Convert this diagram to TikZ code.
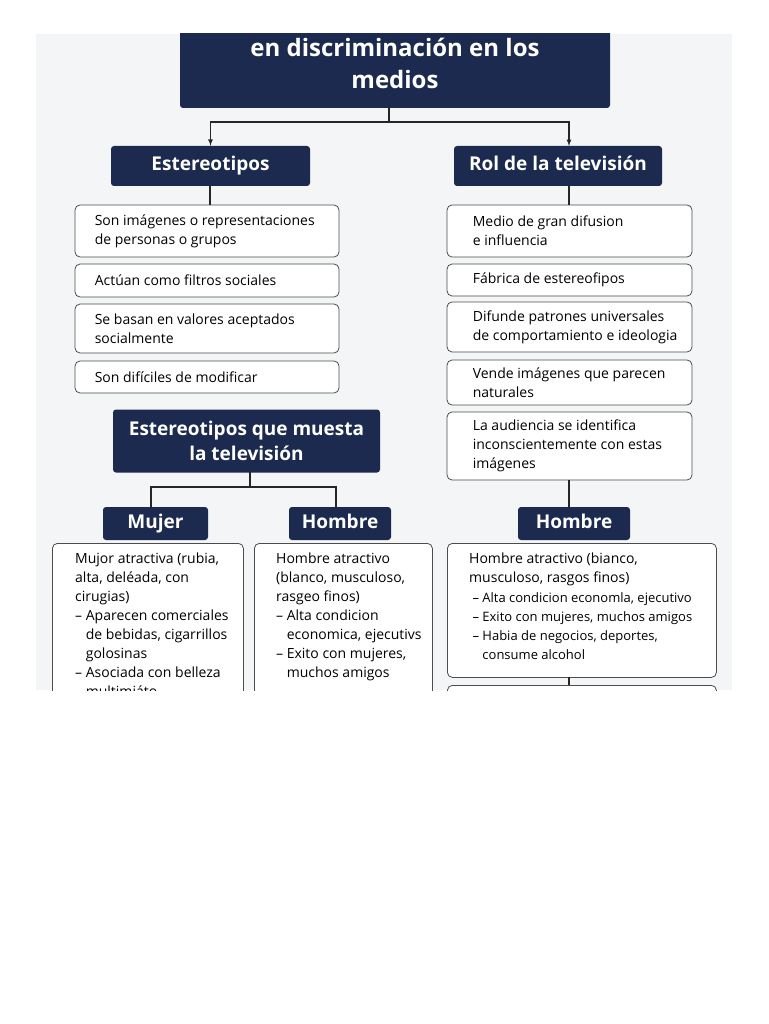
\documentclass[tikz,border=0pt]{standalone}
\usepackage{fontspec}
\setmainfont{Open Sans}
\definecolor{navy}{HTML}{1B2A4E}
\definecolor{bgc}{HTML}{F4F5F6}
\begin{document}
\begin{tikzpicture}[x=1pt,y=-1pt,
 hbox/.style={fill=navy,rounded corners=3pt,text=white,font=\fontsize{19}{23}\selectfont\bfseries,align=center,inner sep=0pt},
 one/.style={text height=14pt,text depth=5pt},
 wbox/.style={draw=black!70,line width=0.8pt,fill=white,rounded corners=5pt,inner sep=0pt},
 txt/.style={align=left,inner sep=0pt,anchor=west,font=\fontsize{14}{19}\selectfont},
 ttxt/.style={align=left,inner sep=0pt,anchor=north west,font=\fontsize{14}{19}\selectfont},
 ln/.style={line width=1.2pt,black!85},
 arr/.style={ln,-latex}]
\useasboundingbox (0,0) rectangle (768,1024);
\fill[white] (0,0) rectangle (768,1024);
\begin{scope}
\clip (36,34) rectangle (732,690);
\fill[bgc] (36,34) rectangle (732,690);
% title
\node[hbox,minimum width=430,minimum height=90,font=\fontsize{24}{32}\selectfont\bfseries] (title) at (395,63) {en discriminación en los\\medios};
\node[hbox,one,minimum width=199,minimum height=40] (est) at (210.5,166) {Estereotipos};
\node[hbox,one,minimum width=208,minimum height=40] (rol) at (558,166) {Rol de la televisión};
\coordinate (tj) at (389,122);
\coordinate (ra) at (569,146);
\draw[ln] (389,106) -- (tj);
\draw[arr] (tj) -| (est.north);
\draw[arr] (tj) -| (ra);
% left column
\node[wbox,minimum width=264,minimum height=52] (l1) at (207,231) {};
\node[wbox,minimum width=264,minimum height=33] (l2) at (207,280.5) {};
\node[wbox,minimum width=264,minimum height=49] (l3) at (207,328.5) {};
\node[wbox,minimum width=264,minimum height=32] (l4) at (207,377) {};
\node[txt] (t1) at ([xshift=20pt]l1.west) {Son imágenes o representaciones\\de personas o grupos};
\node[txt] (t2) at ([xshift=20pt]l2.west) {Actúan como filtros sociales};
\node[txt] (t3) at ([xshift=20pt]l3.west) {Se basan en valores aceptados\\socialmente};
\node[txt] (t4) at ([xshift=20pt]l4.west) {Son difíciles de modificar};
\draw[ln] (210,186) -- (210,205);
% right column
\node[wbox,minimum width=245,minimum height=52] (r1) at (569.5,231) {};
\node[wbox,minimum width=245,minimum height=32] (r2) at (569.5,280) {};
\node[wbox,minimum width=245,minimum height=50] (r3) at (569.5,327) {};
\node[wbox,minimum width=245,minimum height=45] (r4) at (569.5,382.5) {};
\node[wbox,minimum width=245,minimum height=68] (r5) at (569.5,446) {};
\node[txt] (s1) at ([xshift=26pt]r1.west) {Medio de gran difusion\\e influencia};
\node[txt] (s2) at ([xshift=26pt]r2.west) {Fábrica de estereofipos};
\node[txt] (s3) at ([xshift=26pt]r3.west) {Difunde patrones universales\\de comportamiento e ideologia};
\node[txt] (s4) at ([xshift=26pt]r4.west) {Vende imágenes que parecen\\naturales};
\node[txt] (s5) at ([xshift=26pt]r5.west) {La audiencia se identifica\\inconscientemente con estas\\imágenes};
\draw[ln] (569,186) -- (569,205);
% middle header
\node[hbox,minimum width=267,minimum height=63,font=\fontsize{19}{25}\selectfont\bfseries] (emt) at (246.5,441) {Estereotipos que muesta\\la televisión};
\node[hbox,one,minimum width=105,minimum height=33] (muj) at (155.5,523.5) {Mujer};
\node[hbox,one,minimum width=102,minimum height=33] (hom) at (340,523.5) {Hombre};
\node[hbox,one,minimum width=112,minimum height=33] (hom2) at (574,523.5) {Hombre};
\coordinate (mj) at (250,487);
\draw[ln] (250,471) -- (mj);
\draw[ln] (mj) -| (151,507);
\draw[ln] (mj) -| (336,507);
\draw[ln] (569,480) -- (569,507);
% lower boxes
\node[wbox,anchor=north west,minimum width=191,minimum height=160] (mb) at (52,543) {};
\node[wbox,anchor=north west,minimum width=178,minimum height=160] (hb) at (254,543) {};
\node[wbox,anchor=north west,minimum width=269,minimum height=134] (hb2) at (447,543) {};
\node[ttxt] (mt) at ([xshift=23pt,yshift=-10pt]mb.north west) {Mujor atractiva (rubia,\\alta, deléada, con\\cirugias)\\
– Aparecen comerciales\\\phantom{– }de bebidas, cigarrillos\\\phantom{– }golosinas\\
– Asociada con belleza\\\phantom{– }multimiáto};
\node[ttxt] (ht) at ([xshift=22pt,yshift=-10pt]hb.north west) {Hombre atractivo\\(blanco, musculoso,\\rasgeo finos)\\
– Alta condicion\\\phantom{– }economica, ejecutivs\\
– Exito con mujeres,\\\phantom{– }muchos amigos};
\node[ttxt] (h2t) at ([xshift=22pt,yshift=-10pt]hb2.north west) {Hombre atractivo (bianco,\\musculoso, rasgos finos)\\[1pt]
{\fontsize{13}{20}\selectfont\ – Alta condicion economla, ejecutivo}\\
{\fontsize{13}{20}\selectfont\ – Exito con mujeres, muchos amigos}\\
{\fontsize{13}{18}\selectfont\ – Habia de negocios, deportes,}\\
{\fontsize{13}{18}\selectfont\ \phantom{– }consume alcohol}};
\node[wbox,anchor=north west,minimum width=269,minimum height=40] (hb3) at (447,685) {};
\draw[ln] (569,677) -- (hb3.north -| 569,0);
\end{scope}
\end{tikzpicture}
\end{document}
